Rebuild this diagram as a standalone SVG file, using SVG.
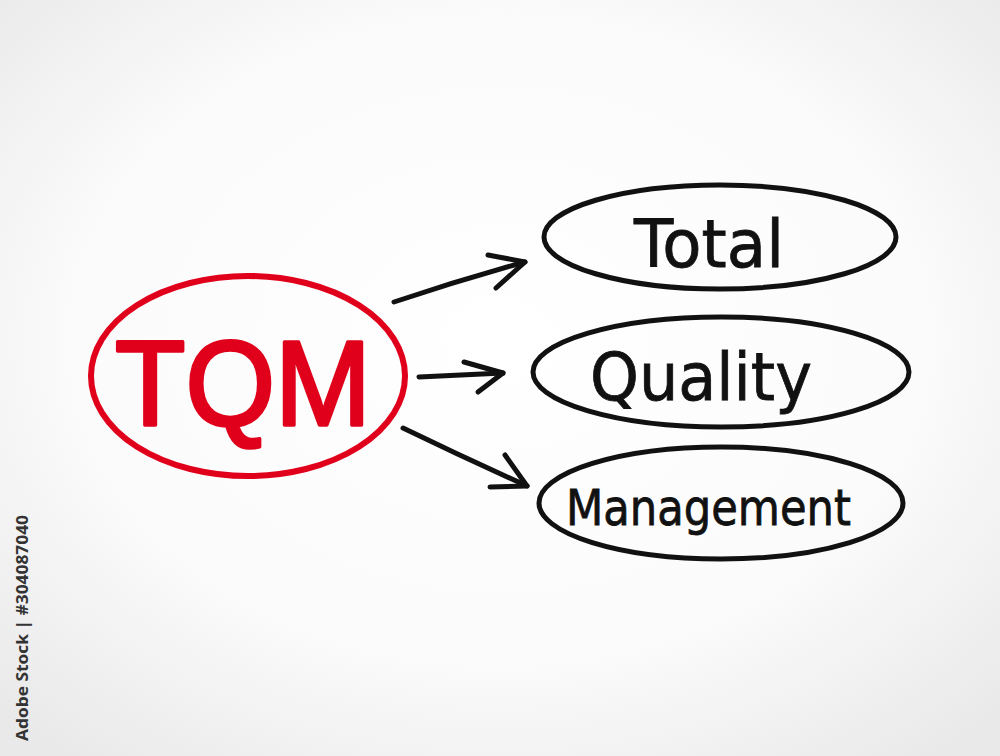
<svg xmlns="http://www.w3.org/2000/svg" width="1000" height="756" viewBox="0 0 1000 756">
  <defs>
    <radialGradient id="bg" cx="50%" cy="45%" r="70%">
      <stop offset="0" stop-color="#ffffff"/>
      <stop offset="0.6" stop-color="#fbfbfb"/>
      <stop offset="1" stop-color="#e9e9e9"/>
    </radialGradient>
  </defs>
  <style>
    .oval { fill: none; stroke: #111; stroke-width: 5; }
    .red { fill: none; stroke: #e0001b; stroke-width: 6; }
    .lbl { font-family: "DejaVu Sans", "Liberation Sans", sans-serif; fill: #111; stroke: #111; stroke-width: 0.8; }
    .conn { fill: none; stroke: #111; stroke-width: 5; stroke-linecap: round; stroke-linejoin: round; }
  </style>
  <rect x="0" y="0" width="1000" height="756" fill="url(#bg)"/>

  <g id="tqm">
    <ellipse class="red" cx="248" cy="376" rx="157" ry="100"/>
    <text x="115" y="425" font-family="'Liberation Sans', sans-serif" font-size="120" fill="#e0001b" stroke="#e0001b" stroke-width="3.5" stroke-linejoin="round" textLength="256" lengthAdjust="spacingAndGlyphs">TQM</text>
  </g>

  <g id="total">
    <ellipse class="oval" cx="720" cy="237" rx="176" ry="52"/>
    <text class="lbl" x="634" y="267" font-size="66" textLength="150" lengthAdjust="spacingAndGlyphs">Total</text>
  </g>

  <g id="quality">
    <ellipse class="oval" cx="721" cy="372" rx="188" ry="55"/>
    <text class="lbl" x="590" y="400" font-size="66" textLength="222" lengthAdjust="spacingAndGlyphs">Quality</text>
  </g>

  <g id="management">
    <ellipse class="oval" cx="721" cy="503" rx="182" ry="56"/>
    <text class="lbl" x="566" y="525" font-size="50" textLength="285" lengthAdjust="spacingAndGlyphs">Management</text>
  </g>

  <g id="connectors">
    <path class="conn" d="M394 302 Q460 280 525 262"/>
    <path class="conn" d="M488 255 L525 262 L496 288"/>
    <path class="conn" d="M419 377 L503 373"/>
    <path class="conn" d="M464 362 L503 373 L478 392"/>
    <path class="conn" d="M403 428 Q465 458 527 486"/>
    <path class="conn" d="M505 455 L527 486 L490 487"/>
  </g>

  <text x="0" y="0" transform="translate(28 741) rotate(-90)" font-family="'Open Sans', 'Liberation Sans', sans-serif" font-size="16" font-weight="700" fill="#333" textLength="226" lengthAdjust="spacingAndGlyphs">Adobe Stock | #304087040</text>
</svg>
